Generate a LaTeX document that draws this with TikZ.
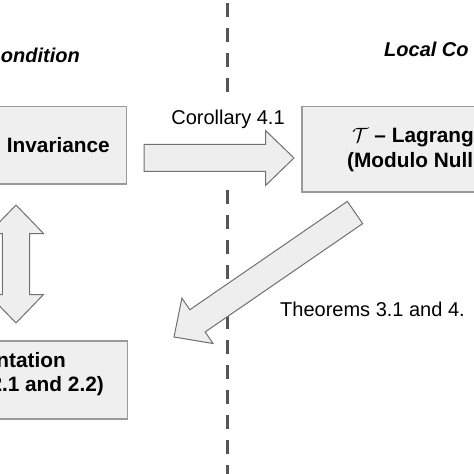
\documentclass[tikz,border=0pt]{standalone}
\usepackage{fontspec}
\setmainfont{Liberation Sans}
\usetikzlibrary{calc}
\definecolor{boxfill}{HTML}{EFEFEF}
\definecolor{boxline}{HTML}{9A9A9A}
\definecolor{arrfill}{HTML}{EEEEEE}
\definecolor{arrline}{HTML}{707070}
\definecolor{dashcol}{HTML}{555555}
\newcommand\shafthw{13.5bp}
\newcommand\headhw{27.5bp}
\newcommand\headlen{28.5bp}
\newcommand\blockarrow[2]{%
  \coordinate (h-#1) at ($(#2)!\headlen!(#1)$);
  \draw[barrow] ($(#1)!\shafthw!90:(#2)$) -- ($(h-#1)!\shafthw!90:(#2)$) -- ($(h-#1)!\headhw!90:(#2)$) -- (#2) -- ($(h-#1)!\headhw!-90:(#2)$) -- ($(h-#1)!\shafthw!-90:(#2)$) -- ($(#1)!\shafthw!-90:(#2)$) -- cycle;}
\newcommand\dblarrow[2]{%
  \coordinate (ha-#1) at ($(#1)!\headlen!(#2)$);
  \coordinate (hb-#1) at ($(#2)!\headlen!(#1)$);
  \draw[barrow] (#1) -- ($(ha-#1)!\headhw!90:(#2)$) -- ($(ha-#1)!\shafthw!90:(#2)$) -- ($(hb-#1)!\shafthw!90:(#2)$) -- ($(hb-#1)!\headhw!90:(#2)$) -- (#2) -- ($(hb-#1)!\headhw!-90:(#2)$) -- ($(hb-#1)!\shafthw!-90:(#2)$) -- ($(ha-#1)!\shafthw!-90:(#2)$) -- ($(ha-#1)!\headhw!-90:(#2)$) -- cycle;}
\tikzset{
  box/.style={draw=boxline, fill=boxfill, line width=1.5bp, rectangle, inner sep=0pt},
  barrow/.style={draw=arrline, fill=arrfill, line width=1bp, line join=miter},
  dashline/.style={draw=dashcol, line width=3bp, dash pattern=on 14bp off 11bp},
  heading/.style={font=\fontsize{20bp}{24bp}\selectfont\bfseries\itshape, inner sep=0pt},
  boxtext/.style={font=\fontsize{20.8bp}{24bp}\selectfont\bfseries, inner sep=0pt},
  lbl/.style={font=\fontsize{20bp}{24bp}\selectfont, inner sep=0pt},
}
\begin{document}
\begin{tikzpicture}[x=1bp, y=-1bp]
\useasboundingbox (0,0) rectangle (474,474);
\clip (0,0) rectangle (474,474);
% divider
\coordinate (dtop) at (227,3);
\coordinate (dmid1) at (227,92);
\coordinate (dmid2) at (227,190);
\coordinate (dbot) at (227,480);
\draw[dashline] (dtop) -- (dmid1);
\draw[dashline] (dmid2) -- (dbot);
% headings
\node[heading, anchor=base east] (hleft) at (80,63) {ondition};
\node[heading, anchor=base west] (hright) at (384,57) {Local Co};
% boxes
\node[box, minimum width=150bp, minimum height=77bp, anchor=north east] (b1) at (127,106) {};
\node[box, minimum width=200bp, minimum height=85bp, anchor=north west] (b2) at (301,106) {};
\node[box, minimum width=150bp, minimum height=78bp, anchor=north east] (b3) at (128,340) {};
% box texts
\node[boxtext, anchor=base east] (t1) at (110,153) {Invariance};
\node[boxtext, anchor=base west] (t2a) at (352,143) {$\mathcal{T}$ – Lagrang};
\node[boxtext, anchor=base west] (t2b) at (347,168) {(Modulo Null};
\node[boxtext, anchor=base east] (t3a) at (66,367) {ntation};
\node[boxtext, anchor=base east] (t3b) at (104,391) {2.1 and 2.2)};
% arrows
\coordinate (r1) at (144,158);
\coordinate (r2) at (294,158);
\blockarrow{r1}{r2}
\coordinate (v1) at (16,205);
\coordinate (v2) at (16,323);
\dblarrow{v1}{v2}
\coordinate (d1) at (355,212.5);
\coordinate (d2) at (174,337);
\blockarrow{d1}{d2}
% labels
\node[lbl, anchor=base] (l1) at (228,125) {Corollary 4.1};
\node[lbl, anchor=base west] (l2) at (280,316) {Theorems 3.1 and 4.};
\end{tikzpicture}
\end{document}
